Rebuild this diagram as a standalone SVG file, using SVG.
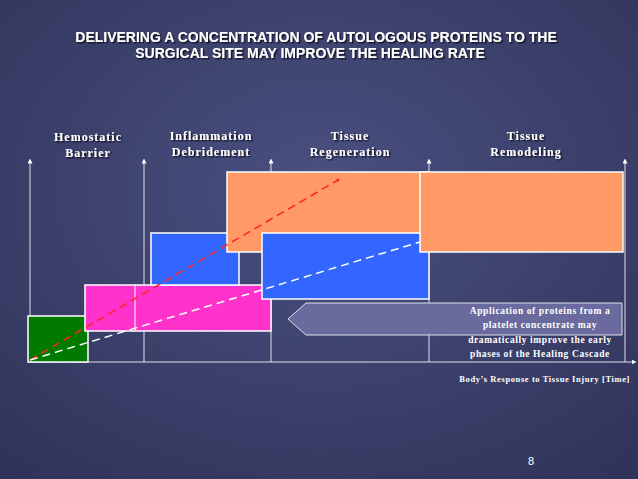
<svg xmlns="http://www.w3.org/2000/svg" width="638" height="479" viewBox="0 0 638 479">
<defs>
<radialGradient id="bg" cx="0.5" cy="0.4" r="0.8"><stop offset="0" stop-color="#4a5080"/><stop offset="1" stop-color="#2e3258"/></radialGradient>
<marker id="ah" viewBox="0 0 6 6" refX="3" refY="3" markerWidth="5" markerHeight="5" orient="auto"><path d="M0,0L6,3L0,6z" fill="#fff"/></marker>
<filter id="sh" x="-5%" y="-20%" width="110%" height="150%"><feDropShadow dx="1.5" dy="1.5" stdDeviation="0.3" flood-color="#15152a"/></filter>
</defs>
<style>
.t{font-family:"Liberation Sans",Arial,sans-serif;font-weight:bold;font-size:14px;fill:#fff;text-anchor:middle}
.l{font-family:"Liberation Serif",serif;font-weight:bold;font-size:12px;fill:#fff;text-anchor:middle;letter-spacing:1px}
.s{font-family:"Liberation Serif",serif;font-weight:bold;font-size:9.5px;fill:#fff;text-anchor:middle;letter-spacing:0.6px}
.ax{stroke:#dfe0ee;stroke-width:1;fill:none}
.b{stroke:#fff;stroke-width:1.5}
</style>
<rect width="638" height="479" fill="url(#bg)"/>
<g id="title" filter="url(#sh)">
<text class="t" x="316" y="42">DELIVERING A CONCENTRATION OF AUTOLOGOUS PROTEINS TO THE</text>
<text class="t" x="310" y="58">SURGICAL SITE MAY IMPROVE THE HEALING RATE</text>
</g>
<g id="labels" filter="url(#sh)">
<text class="l" x="88" y="141">Hemostatic</text><text class="l" x="88" y="157">Barrier</text>
<text class="l" x="211" y="140">Inflammation</text><text class="l" x="211" y="156">Debridement</text>
<text class="l" x="350" y="140">Tissue</text><text class="l" x="350" y="156">Regeneration</text>
<text class="l" x="526" y="140">Tissue</text><text class="l" x="526" y="156">Remodeling</text>
</g>
<g id="axes">
<line class="ax" x1="28" y1="362" x2="634" y2="362" marker-end="url(#ah)"/>
<line class="ax" x1="30" y1="362" x2="30" y2="161" marker-end="url(#ah)"/>
<line class="ax" x1="144" y1="362" x2="144" y2="161" marker-end="url(#ah)"/>
<line class="ax" x1="271" y1="362" x2="271" y2="161" marker-end="url(#ah)"/>
<line class="ax" x1="429" y1="362" x2="429" y2="161" marker-end="url(#ah)"/>
<line class="ax" x1="625" y1="362" x2="625" y2="161" marker-end="url(#ah)"/>
</g>
<g id="bars">
<rect class="b" x="28" y="316" width="60" height="46" fill="#007a00"/>
<rect class="b" x="85" y="285" width="186" height="46" fill="#ff33cc"/>
<line x1="135" y1="285" x2="135" y2="331" stroke="#fff" stroke-width="1"/>
<rect class="b" x="151" y="233" width="88" height="52" fill="#3366ff"/>
<rect class="b" x="227" y="172" width="202" height="80" fill="#ff9966"/>
<rect class="b" x="262" y="233" width="167" height="66" fill="#3366ff"/>
<rect class="b" x="420" y="172" width="203" height="80" fill="#ff9966"/>
</g>
<g id="connectors">
<line x1="30" y1="360" x2="338" y2="180" stroke="#ff2222" stroke-width="1.5" stroke-dasharray="8,5"/>
<circle cx="338" cy="180" r="1.5" fill="#ff2222"/>
<line x1="30" y1="360" x2="420" y2="242" stroke="#fff" stroke-width="1.5" stroke-dasharray="8,5"/>
</g>
<g id="callout">
<path d="M306,303H622V335H306L288,319Z" fill="#6a6a9e" stroke="#dfe0ee" stroke-width="1"/>
<text class="s" x="540" y="314">Application of proteins from a</text>
<text class="s" x="540" y="328">platelet concentrate may</text>
<text class="s" x="540" y="343">dramatically improve the early</text>
<text class="s" x="540" y="357">phases of the Healing Cascade</text>
</g>
<text class="s" x="630" y="382" style="text-anchor:end;font-size:8.5px">Body’s Response to Tissue Injury [Time]</text>
<text x="531" y="465" style="font-family:'Liberation Sans',sans-serif;font-size:11px;fill:#fff" text-anchor="middle">8</text>
</svg>
